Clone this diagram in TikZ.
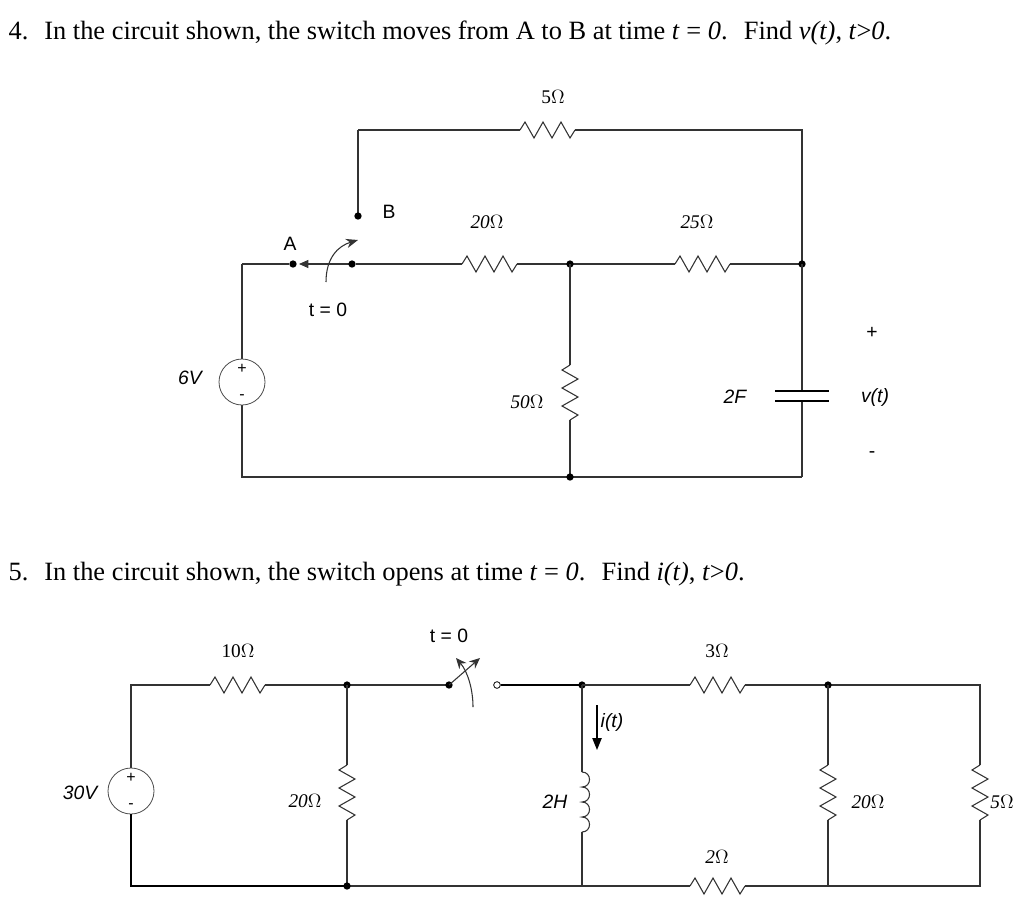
\documentclass[tikz,border=0pt]{standalone}
\usepackage{fontspec}
\setmainfont{Liberation Serif}
\setsansfont{Liberation Sans}
\usetikzlibrary{arrows.meta}
\newcommand\hres[2]{\draw[wire] (#1,#2) -- ++(5,-8) -- ++(9,16) -- ++(9,-16) -- ++(9,16) -- ++(9,-16) -- ++(9,16) -- ++(5,-8);}
\newcommand\vres[2]{\draw[wire] (#1,#2) -- ++(-8,5) -- ++(16,9) -- ++(-16,9) -- ++(16,9) -- ++(-16,9) -- ++(16,9) -- ++(-8,5);}
\begin{document}
\begin{tikzpicture}[x=0.75pt,y=-0.75pt,
 wire/.style={line width=0.8pt,black!80},
 dot/.style={circle,fill=black,inner sep=0pt,minimum size=5.5pt},
 sl/.style={font=\sffamily\fontsize{14.5}{14.5}\selectfont},
 sli/.style={font=\sffamily\itshape\fontsize{14.5}{14.5}\selectfont},
 rl/.style={font=\fontsize{14.5}{14.5}\selectfont},
 ri/.style={font=\itshape\fontsize{14.5}{14.5}\selectfont},
 pm/.style={font=\sffamily\fontsize{12}{12}\selectfont},
 title/.style={font=\fontsize{19.8}{19.8}\selectfont,anchor=west}]
\useasboundingbox (0,0) rectangle (1024,911);
% ---------- Problem 4 ----------
\node[title] (t4) at (4,33) {4.\hspace{0.6em}In the circuit shown, the switch moves from A to B at time \textit{t} = \textit{0}.\; Find \textit{v(t)}, \textit{t}{>}\textit{0}.};
\coordinate (tl) at (358,130); \coordinate (tr) at (802,130);
\draw[wire] (tl) -- (520,130); \hres{520}{130} \draw[wire] (575,130) -- (tr) -- (802,264);
\node[rl] at (553,97) {5$\Omega$};
\draw[wire] (tl) -- (358,216); \node[dot] (B) at (358,216) {};
\node[sl] at (389,212) {B};
\node[dot] (A) at (293,264) {}; \node[sl] at (290,244) {A};
\draw[wire] (242,264) -- (A);
\draw[wire,-{Triangle[length=7pt,width=6pt]}] (352,264) -- (299,264);
\node[dot] (P) at (352,264) {};
\draw[wire,-{Stealth[length=9pt,width=7pt]}] (326,282) .. controls (326,258) and (338,246) .. (358,240);
\node[sl] at (328,310) {t = 0};
\draw[wire] (P) -- (462,264); \hres{462}{264} \draw[wire] (517,264) -- (675,264);
\node[ri] at (487,222) {20$\Omega$};
\node[dot] (n1) at (570,264) {};
\hres{675}{264} \draw[wire] (730,264) -- (802,264);
\node[ri] at (697,222) {25$\Omega$};
\node[dot] (n2) at (802,264) {};
\draw[wire] (242,264) -- (242,359); \draw[wire] (242,405) -- (242,477) -- (802,477);
\node[draw,circle,black!70,line width=0.6pt,minimum size=46pt*0.75,inner sep=0pt] (s1) at (242,382) {};
\node[pm] at (242,369) {+};
\node[pm] at (242,397) {-};
\node[sli] at (190,378) {6V};
\draw[wire] (570,264) -- (570,365); \vres{570}{365} \draw[wire] (570,420) -- (570,477);
\node[dot] (n3) at (570,477) {};
\node[ri] at (527,402) {50$\Omega$};
\draw[wire] (802,264) -- (802,391); \draw[wire] (802,401) -- (802,477);
\draw[line width=1.3pt] (775,391) -- (829,391); \draw[line width=1.3pt] (775,401) -- (829,401);
\node[sli] at (735,397) {2F};
\node[sl] at (872,333) {+}; \node[sli] at (875,397) {v(t)}; \node[sl] at (872,455) {-};
% ---------- Problem 5 ----------
\node[title] (t5) at (4,574) {5.\hspace{0.6em}In the circuit shown, the switch opens at time \textit{t} = \textit{0}.\; Find \textit{i(t)}, \textit{t}{>}\textit{0}.};
\draw[wire] (131,768) -- (131,685) -- (210,685); \hres{210}{685} \draw[wire] (265,685) -- (449,685);
\node[rl] at (238,651) {10$\Omega$};
\node[dot] (m1) at (347,685) {};
\node[dot] (sp) at (449,685) {};
\draw[wire,-{Stealth[length=8pt,width=7pt]}] (449,685) -- (480,658);
\draw[wire,-{Stealth[length=8pt,width=7pt]}] (473,707) .. controls (473,690) and (468,672) .. (456,658);
\node[sl] at (449,636) {t = 0};
\node[draw,circle,line width=0.6pt,inner sep=0pt,minimum size=5pt,fill=white] (oc) at (497,685) {};
\draw[line width=1.4pt] (oc) -- (582,685);
\node[dot] (m2) at (582,685) {};
\draw[wire] (582,685) -- (690,685); \hres{690}{685} \draw[wire] (745,685) -- (980,685) -- (980,765);
\node[rl] at (717,651) {3$\Omega$};
\node[dot] (m3) at (828,685) {};
\node[draw,circle,black!70,line width=0.6pt,minimum size=46pt*0.75,inner sep=0pt] (s2) at (131,791) {};
\node[pm] at (131,778) {+};
\node[pm] at (131,806) {-};
\node[sli] at (80,793) {30V};
\draw[line width=1.4pt] (131,814) -- (131,886) -- (347,886);
\draw[wire] (347,886) -- (582,886);
\draw[wire] (347,685) -- (347,765); \vres{347}{765} \draw[wire] (347,820) -- (347,886);
\node[dot] (m4) at (347,886) {};
\node[ri] at (305,801) {20$\Omega$};
\draw[wire] (582,685) -- (582,772);
\draw[wire] (582,772) .. controls (592,772) and (592,787) .. (582,787) .. controls (592,787) and (592,802) .. (582,802) .. controls (592,802) and (592,817) .. (582,817) .. controls (592,817) and (592,832) .. (582,832);
\draw[wire] (582,832) -- (582,886) -- (690,886); \hres{690}{886} \draw[wire] (745,886) -- (980,886) -- (980,820);
\node[ri] at (717,857) {2$\Omega$};
\node[sli] at (555,802) {2H};
\draw[line width=1pt,-{Triangle[length=9pt,width=7pt]}] (597,705) -- (597,750);
\node[sli] at (612,722) {i(t)};
\draw[wire] (828,685) -- (828,765); \vres{828}{765} \draw[wire] (828,820) -- (828,886);
\node[ri] at (868,802) {20$\Omega$};
\vres{980}{765}
\node[ri] at (1002,802) {5$\Omega$};
\end{tikzpicture}
\end{document}
